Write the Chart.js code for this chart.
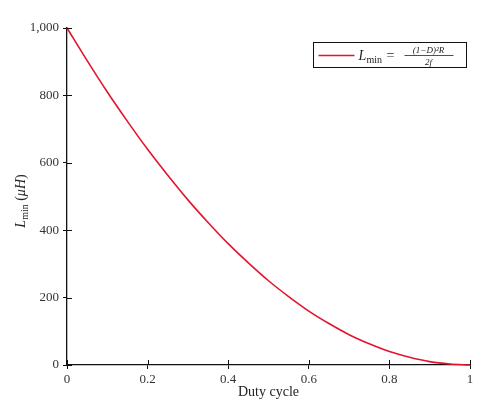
<!DOCTYPE html>
<html lang="en">
<head>
  <meta charset="UTF-8">
  <title>Minimum inductance vs duty cycle</title>
  <script src="https://cdn.jsdelivr.net/npm/chart.js"></script>
  <style>
    body { margin: 0; background: #fff; overflow: hidden; }
    canvas { display: block; }
  </style>
</head>
<body>
  <canvas id="chart" width="478" height="407"></canvas>
  <script>
    // duty cycle samples and values
    const duty = [0, 0.05, 0.1, 0.15, 0.2, 0.25, 0.3, 0.35, 0.4, 0.45, 0.5, 0.55, 0.6, 0.65, 0.7, 0.75, 0.8, 0.85, 0.9, 0.95, 1];
    const lmin = [1000, 903, 810, 723, 640, 563, 490, 423, 360, 303, 250, 203, 160, 123, 90, 63, 40, 23, 10, 3, 0];
    const xTicks = [0, 0.2, 0.4, 0.6, 0.8, 1];
    const yTicks = [0, 200, 400, 600, 800, 1000];

    const serif = '"Liberation Serif", "DejaVu Serif", serif';
    const red = '#e3142e';

    // draws inner tick marks, axis titles and the boxed legend
    const extras = {
      id: 'extras',
      afterDraw(chart) {
        const ctx = chart.ctx;
        const x = chart.scales.x, y = chart.scales.y;
        ctx.save();
        ctx.strokeStyle = '#111';
        ctx.lineWidth = 1;
        xTicks.forEach(v => {
          const px = Math.round(x.getPixelForValue(v)) + 0.5;
          ctx.beginPath(); ctx.moveTo(px, y.bottom); ctx.lineTo(px, y.bottom - 5); ctx.stroke();
        });
        yTicks.forEach(v => {
          const py = Math.round(y.getPixelForValue(v)) + 0.5;
          ctx.beginPath(); ctx.moveTo(x.left, py); ctx.lineTo(x.left + 5, py); ctx.stroke();
        });

        // y title: L_min (μH), rotated
        ctx.save();
        ctx.fillStyle = '#222';
        ctx.translate(21, 201);
        ctx.rotate(-Math.PI / 2);
        ctx.textBaseline = 'alphabetic';
        const parts = [['italic 14px ', 'L', 0], ['10px ', 'min', 3], ['14px ', ' (', 0], ['italic 14px ', 'μH', 0], ['14px ', ')', 0]];
        let w = 0;
        parts.forEach(p => { ctx.font = p[0] + serif; w += ctx.measureText(p[1]).width; });
        let cx = -w / 2;
        parts.forEach(p => {
          ctx.font = p[0] + serif;
          ctx.fillText(p[1], cx, 4 + p[2]);
          cx += ctx.measureText(p[1]).width;
        });
        ctx.restore();

        // legend box
        const bx = 313.5, by = 42.5, bw = 153, bh = 25;
        ctx.strokeStyle = '#111';
        ctx.lineWidth = 1;
        ctx.strokeRect(bx, by, bw, bh);
        ctx.strokeStyle = red;
        ctx.lineWidth = 1.6;
        ctx.beginPath(); ctx.moveTo(bx + 5, by + 13); ctx.lineTo(bx + 41, by + 13); ctx.stroke();
        ctx.fillStyle = '#222';
        ctx.textAlign = 'left';
        ctx.font = 'italic 14px ' + serif;
        ctx.fillText('L', bx + 45, by + 17);
        ctx.font = '10px ' + serif;
        ctx.fillText('min', bx + 53, by + 20);
        ctx.font = '14px ' + serif;
        ctx.fillText('=', bx + 73, by + 17);
        ctx.textAlign = 'center';
        ctx.font = 'italic 9px ' + serif;
        ctx.fillText('(1\u2212D)\u00B2R', bx + 115, by + 10);
        ctx.fillText('2f', bx + 115, by + 22);
        ctx.strokeStyle = '#222';
        ctx.lineWidth = 0.8;
        ctx.beginPath(); ctx.moveTo(bx + 91, by + 13); ctx.lineTo(bx + 140, by + 13); ctx.stroke();
        ctx.restore();
      }
    };

    new Chart(document.getElementById('chart'), {
      type: 'line',
      data: {
        datasets: [{
          data: duty.map((d, i) => ({ x: d, y: lmin[i] })),
          borderColor: red,
          borderWidth: 1.6,
          pointRadius: 0,
          cubicInterpolationMode: 'monotone',
          clip: false
        }]
      },
      options: {
        responsive: false,
        animation: false,
        devicePixelRatio: 1,
        layout: { padding: { top: 28, right: 8, left: 0, bottom: 0 } },
        plugins: { legend: { display: false }, tooltip: { enabled: false } },
        scales: {
          x: {
            type: 'linear', min: 0, max: 1,
            afterBuildTicks: s => { s.ticks = xTicks.map(v => ({ value: v })); },
            afterFit: s => { s.height = 42; },
            border: { color: '#111', width: 1.3 },
            grid: { drawOnChartArea: false, tickLength: 4, color: '#111' },
            ticks: { color: '#333', font: { family: serif, size: 13 }, padding: 3,
              callback: v => String(v) },
            title: { display: true, text: 'Duty cycle', color: '#222',
              font: { family: serif, size: 14 }, padding: { top: 0, bottom: 6 } }
          },
          y: {
            type: 'linear', min: 0, max: 1000,
            afterBuildTicks: s => { s.ticks = yTicks.map(v => ({ value: v })); },
            afterFit: s => { s.width = 67; },
            border: { color: '#111', width: 1.3 },
            grid: { drawOnChartArea: false, tickLength: 4, color: '#111' },
            ticks: { color: '#333', font: { family: serif, size: 13 }, padding: 4,
              callback: v => v.toLocaleString('en-US') }
          }
        }
      },
      plugins: [extras]
    });
  </script>
</body>
</html>
